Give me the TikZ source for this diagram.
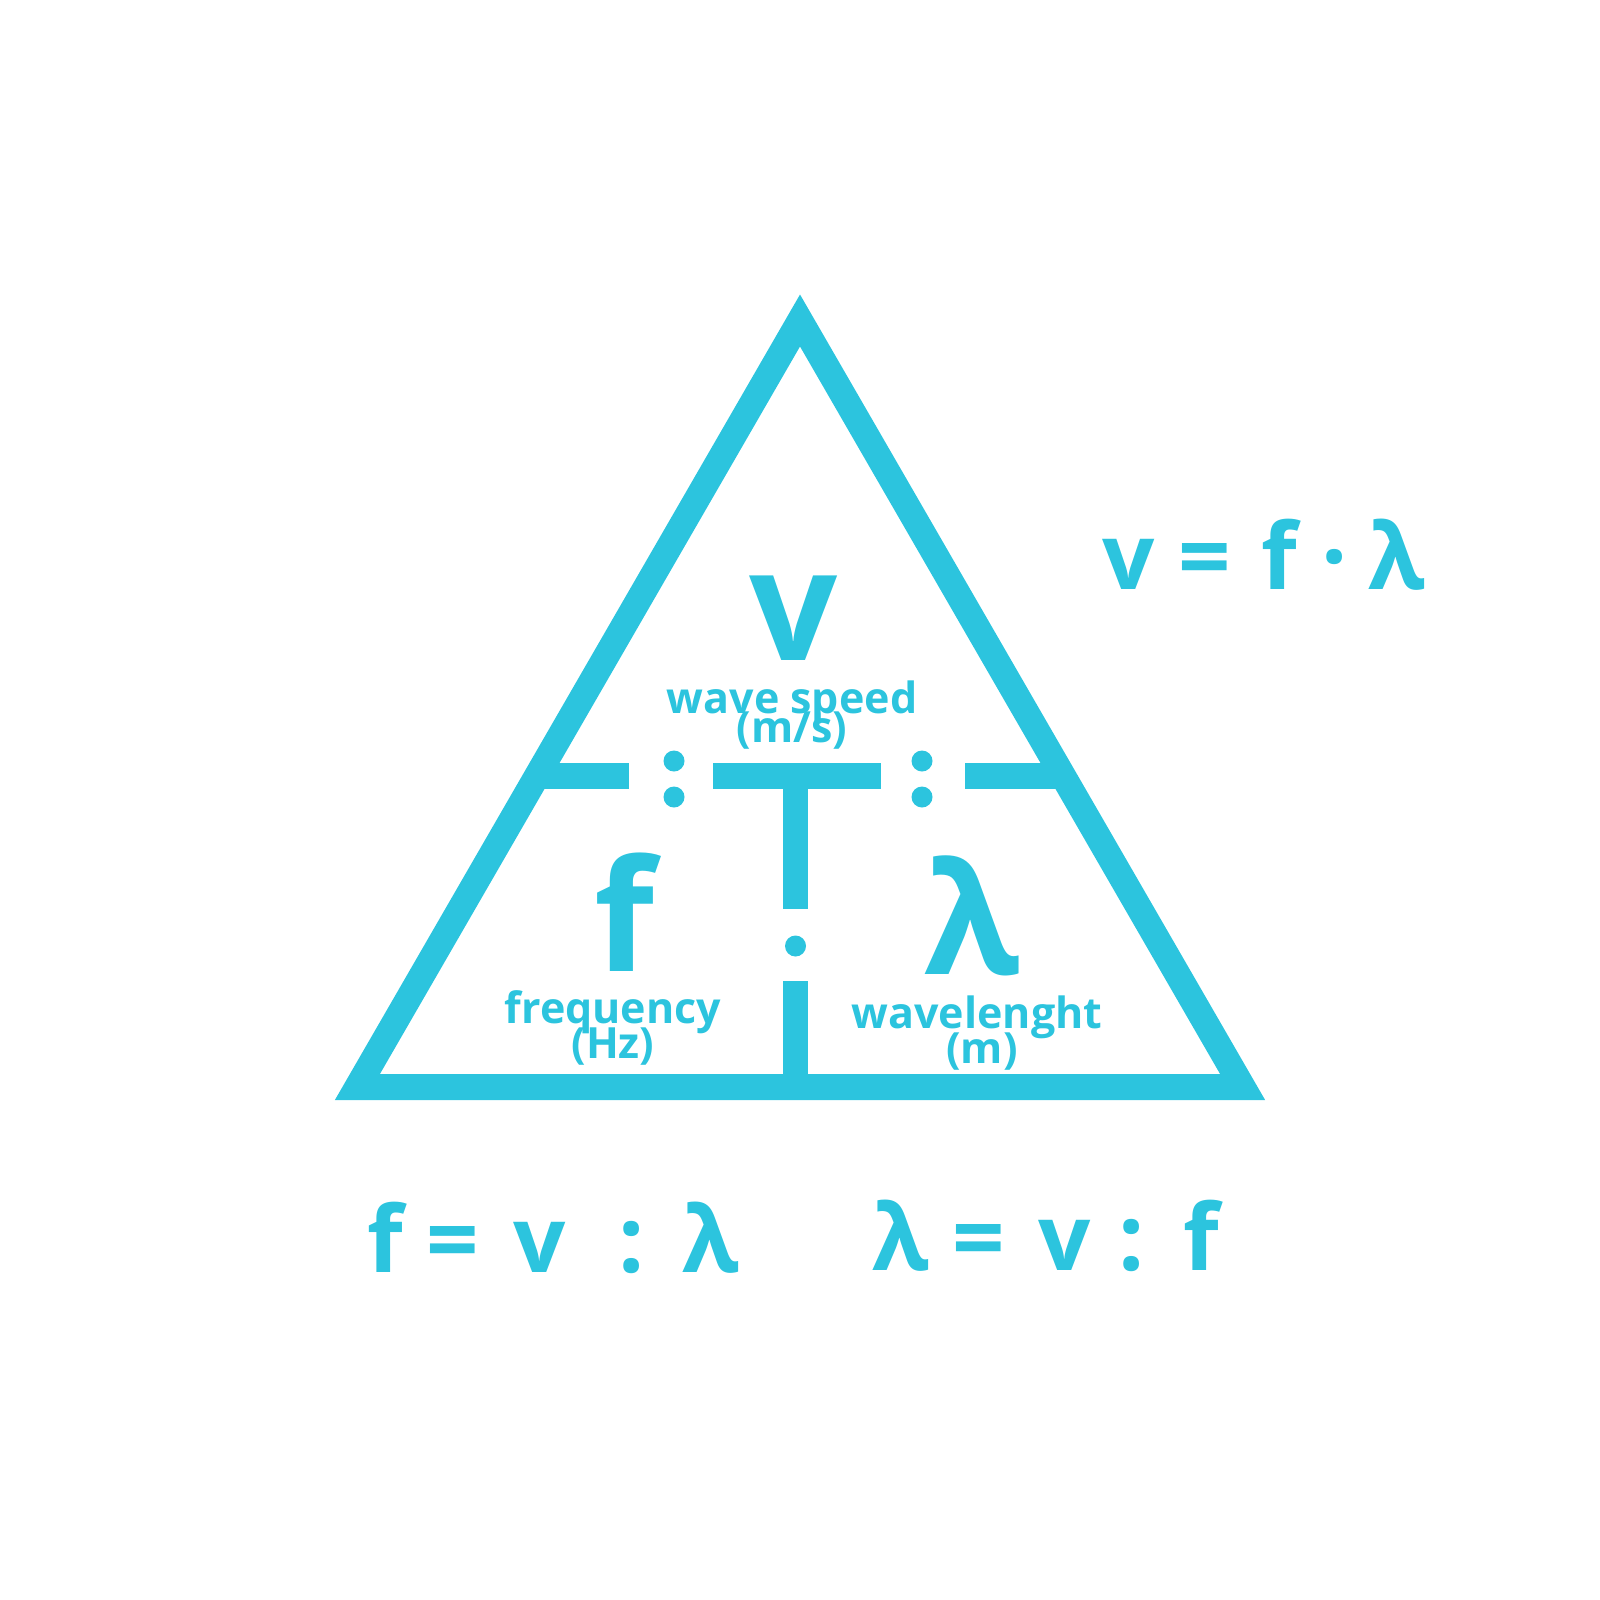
\documentclass[tikz,border=0pt]{standalone}
\usepackage{fontspec}
\setmainfont{Open Sans}
\definecolor{wave}{HTML}{2CC4DE}

\begin{document}
\begin{tikzpicture}[x=1pt,y=-1pt,
    qty/.style={anchor=base,inner sep=0pt,text=wave,font=\fontsize{155}{155}\selectfont\bfseries},
    unit/.style={anchor=base,inner sep=0pt,text=wave,font=\fontsize{43}{43}\selectfont\bfseries},
    eqn/.style={anchor=base west,inner sep=0pt,text=wave,font=\fontsize{92}{92}\selectfont\bfseries},
    bar/.style={wave,line width=26pt}]
  \useasboundingbox (0,0) rectangle (1600,1600);

  % triangle
  \draw[bar,line join=miter] (800,320.5) -- (357.4,1087) -- (1242.6,1087) -- cycle;

  % T with colons
  \draw[bar] (537,776) -- (629,776);
  \draw[bar] (713,776) -- (881,776);
  \draw[bar] (965,776) -- (1063,776);
  \draw[line width=25pt,wave] (795.5,776) -- (795.5,909);
  \draw[line width=25pt,wave] (795.5,981) -- (795.5,1087);
  \foreach \x in {674,922}
    \foreach \y in {761,797}
      \fill[wave] (\x,\y) circle (10.5);
  \fill[wave] (795.5,946) circle (10.5);

  % quantities
  \node[qty] (v) at (794,660) {v};
  \node[unit] (speed) at (792,713) {wave speed};
  \node[unit] (speedunit) at (792,742) {(m/s)};

  \node[qty] (f) at (624,971) {f};
  \node[unit] (freq) at (613,1023) {frequency};
  \node[unit] (frequnit) at (613,1058) {(Hz)};

  \node[qty] (lambda) at (972,974) {λ};
  \node[unit] (wavelen) at (977,1028) {wavelenght};
  \node[unit] (wavelenunit) at (982,1063) {(m)};

  % formulas
  \node[eqn] (eqv) at (1102,589) {v = \hspace{7pt}f · \hspace{-3pt}λ};
  \node[eqn] (eqf) at (367,1272) {f = \hspace{10pt}v \hspace{29pt}: \hspace{6pt}λ};
  \node[eqn] (eqlambda) at (872,1270) {λ = \hspace{9pt}v \hspace{4pt}: \hspace{7pt}f};
\end{tikzpicture}
\end{document}
